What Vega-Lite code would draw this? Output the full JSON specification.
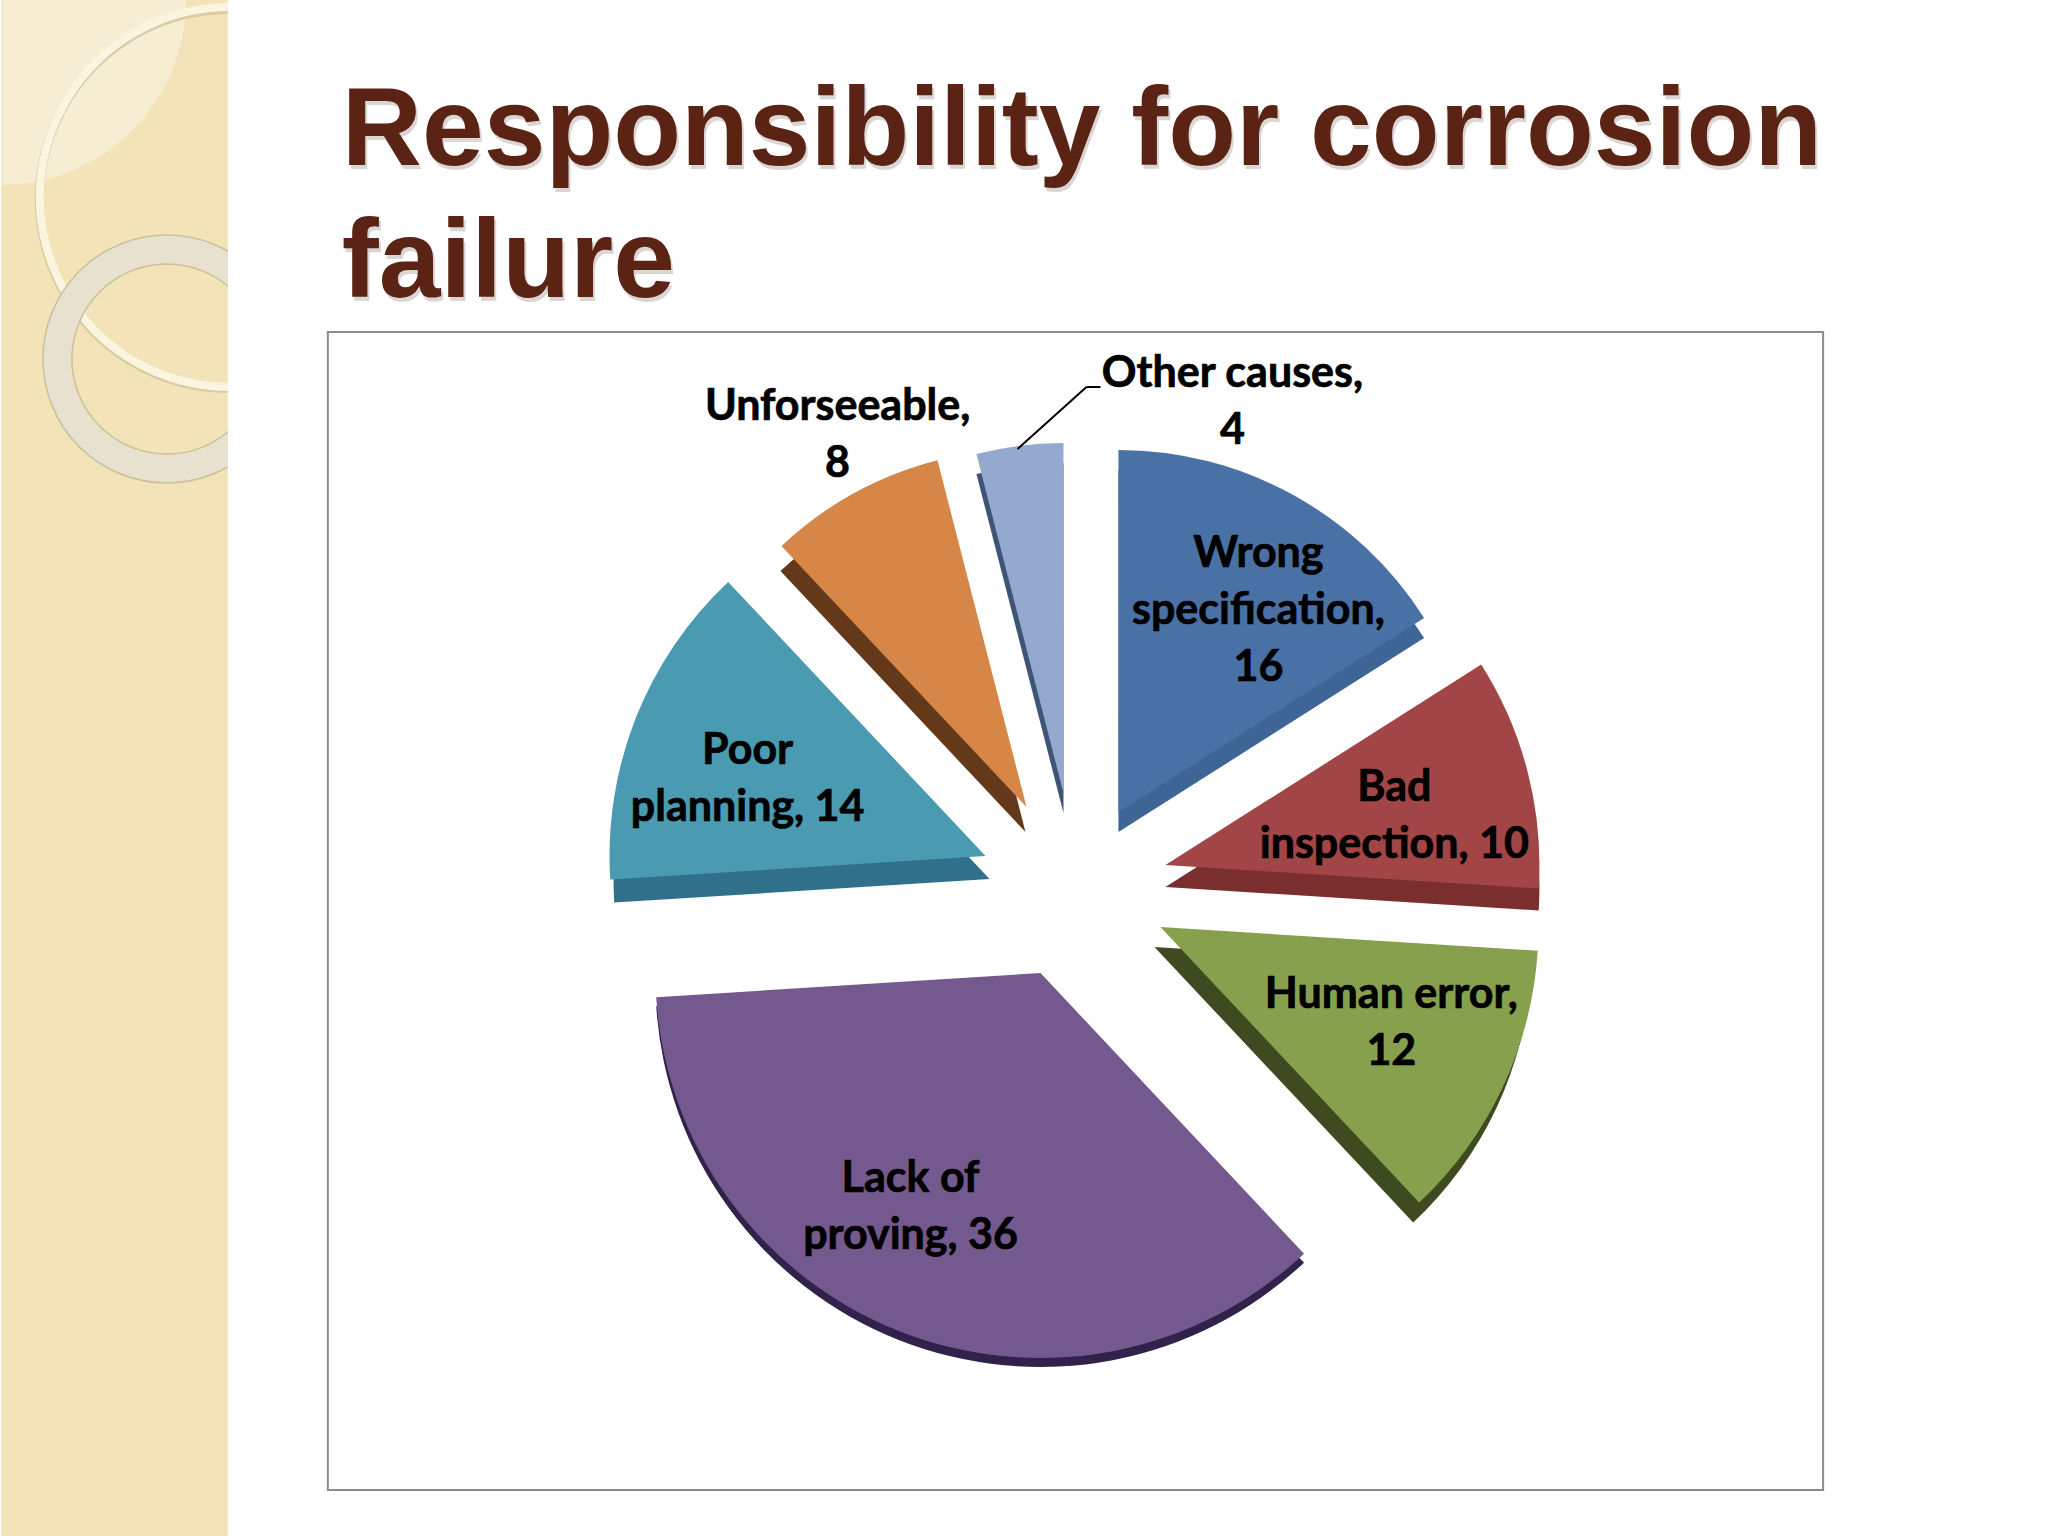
{"$schema":"https://vega.github.io/schema/vega-lite/v6.json","width":2048,"height":1536,"padding":0,"autosize":{"type":"fit","contains":"padding"},"background":"#ffffff","config":{"view":{"stroke":null}},
"data":{"values":[
{"order":1,"cause":"Wrong specification","value":16,"label":"Wrong\nspecification,\n16"},
{"order":2,"cause":"Bad inspection","value":10,"label":"Bad\ninspection, 10"},
{"order":3,"cause":"Human error","value":12,"label":"Human error,\n12"},
{"order":4,"cause":"Lack of proving","value":36,"label":"Lack of\nproving, 36"},
{"order":5,"cause":"Poor planning","value":14,"label":"Poor\nplanning,  14"},
{"order":6,"cause":"Unforseeable","value":8,"label":"Unforseeable,\n8"},
{"order":7,"cause":"Other causes","value":4,"label":"Other causes,\n4"}]},
"transform":[
{"window":[{"op":"sum","field":"value","as":"end"}],"sort":[{"field":"order"}]},
{"calculate":"datum.end-datum.value","as":"start"},
{"calculate":"{'Wrong specification':1118,'Bad inspection':1165,'Human error':1160,'Lack of proving':1040,'Poor planning':985,'Unforseeable':1026,'Other causes':1063}[datum.cause]","as":"tipX"},
{"calculate":"{'Wrong specification':812,'Bad inspection':865,'Human error':927,'Lack of proving':973,'Poor planning':856,'Unforseeable':807,'Other causes':793}[datum.cause]","as":"tipY"},
{"calculate":"{'Wrong specification':362,'Bad inspection':374,'Human error':378,'Lack of proving':385,'Poor planning':376,'Unforseeable':358,'Other causes':350}[datum.cause]","as":"r"},
{"calculate":"datum.tipX+{'Wrong specification':0,'Bad inspection':0,'Human error':-6,'Lack of proving':0,'Poor planning':4,'Unforseeable':-1,'Other causes':0}[datum.cause]","as":"sideX"},
{"calculate":"datum.tipY+{'Wrong specification':20,'Bad inspection':22,'Human error':20,'Lack of proving':9,'Poor planning':23,'Unforseeable':25,'Other causes':20}[datum.cause]","as":"sideY"},
{"calculate":"{'Wrong specification':1258,'Bad inspection':1394,'Human error':1391,'Lack of proving':910,'Poor planning':747,'Unforseeable':837,'Other causes':1232}[datum.cause]","as":"labelX"},
{"calculate":"{'Wrong specification':554,'Bad inspection':788,'Human error':995,'Lack of proving':1179,'Poor planning':751,'Unforseeable':407,'Other causes':374}[datum.cause]","as":"labelY"}
],
"layer":[
{"data":{"values":[{"a":1}]},"mark":{"type":"rect","fill":"#F3E3B9"},"encoding":{"x":{"datum":0,"type":"quantitative","scale":{"domain":[0,2048],"nice":false,"zero":false},"axis":null},"x2":{"datum":227},"y":{"datum":0,"type":"quantitative","scale":{"domain":[0,1536],"reverse":true,"nice":false,"zero":false},"axis":null},"y2":{"datum":1536}}},
{"data":{"values":[{"a":1}]},"mark":{"type":"arc","fill":"#F6EDD2","radius":185,"theta":1.5708,"theta2":3.1416},"encoding":{"x":{"datum":0,"type":"quantitative","scale":{"domain":[0,2048],"nice":false,"zero":false},"axis":null},"y":{"datum":0,"type":"quantitative","scale":{"domain":[0,1536],"reverse":true,"nice":false,"zero":false},"axis":null}}},
{"data":{"values":[{"a":1}]},"mark":{"type":"arc","fill":"#D9CBA3","radius":194,"radius2":185,"theta":0,"theta2":6.2832},"encoding":{"x":{"datum":228,"type":"quantitative","scale":{"domain":[0,2048],"nice":false,"zero":false},"axis":null},"y":{"datum":199,"type":"quantitative","scale":{"domain":[0,1536],"reverse":true,"nice":false,"zero":false},"axis":null}}},
{"data":{"values":[{"a":1}]},"mark":{"type":"arc","fill":"#FBF5E0","radius":194,"radius2":186,"theta":0,"theta2":6.2832},"encoding":{"x":{"datum":229,"type":"quantitative","scale":{"domain":[0,2048],"nice":false,"zero":false},"axis":null},"y":{"datum":197,"type":"quantitative","scale":{"domain":[0,1536],"reverse":true,"nice":false,"zero":false},"axis":null}}},
{"data":{"values":[{"a":1}]},"mark":{"type":"arc","fill":"#E7E1D0","stroke":"#CDBF98","strokeWidth":1.5,"radius":124,"radius2":95,"theta":0,"theta2":6.2832},"encoding":{"x":{"datum":166,"type":"quantitative","scale":{"domain":[0,2048],"nice":false,"zero":false},"axis":null},"y":{"datum":359,"type":"quantitative","scale":{"domain":[0,1536],"reverse":true,"nice":false,"zero":false},"axis":null}}},
{"data":{"values":[{"a":1}]},"mark":{"type":"rect","fill":"#ffffff"},"encoding":{"x":{"datum":227,"type":"quantitative","scale":{"domain":[0,2048],"nice":false,"zero":false},"axis":null},"x2":{"datum":2048},"y":{"datum":0,"type":"quantitative","scale":{"domain":[0,1536],"reverse":true,"nice":false,"zero":false},"axis":null},"y2":{"datum":1536}}},
{"data":{"values":[{"a":1}]},"mark":{"type":"rect","fill":"#ffffff","stroke":"#8C8C8C","strokeWidth":2},"encoding":{"x":{"datum":327,"type":"quantitative","scale":{"domain":[0,2048],"nice":false,"zero":false},"axis":null},"x2":{"datum":1823},"y":{"datum":332,"type":"quantitative","scale":{"domain":[0,1536],"reverse":true,"nice":false,"zero":false},"axis":null},"y2":{"datum":1490}}},
{"data":{"values":[{"line":"Responsibility for corrosion","row":165},{"line":"failure","row":297}]},"mark":{"type":"text","align":"left","baseline":"alphabetic","font":"Liberation Sans","fontWeight":"bold","fontSize":111,"fill":"#B5AEAA","opacity":0.5,"dx":2,"dy":4},"encoding":{"x":{"datum":341,"type":"quantitative","scale":{"domain":[0,2048],"nice":false,"zero":false},"axis":null},"y":{"field":"row","type":"quantitative","scale":{"domain":[0,1536],"reverse":true,"nice":false,"zero":false},"axis":null},"text":{"field":"line"}}},
{"data":{"values":[{"line":"Responsibility for corrosion","row":165},{"line":"failure","row":297}]},"mark":{"type":"text","align":"left","baseline":"alphabetic","font":"Liberation Sans","fontWeight":"bold","fontSize":111,"fill":"#5B2314"},"encoding":{"x":{"datum":341,"type":"quantitative","scale":{"domain":[0,2048],"nice":false,"zero":false},"axis":null},"y":{"field":"row","type":"quantitative","scale":{"domain":[0,1536],"reverse":true,"nice":false,"zero":false},"axis":null},"text":{"field":"line"}}},
{"mark":{"type":"arc"},"encoding":{"x":{"field":"sideX","type":"quantitative","scale":{"domain":[0,2048],"nice":false,"zero":false},"axis":null},"y":{"field":"sideY","type":"quantitative","scale":{"domain":[0,1536],"reverse":true,"nice":false,"zero":false},"axis":null},"theta":{"field":"start","type":"quantitative","stack":false,"scale":{"domain":[0,100],"range":[0,6.28319]}},"theta2":{"field":"end"},"radius":{"field":"r","type":"quantitative","scale":null},"color":{"field":"cause","type":"nominal","legend":null,"scale":{"domain":["Wrong specification","Bad inspection","Human error","Lack of proving","Poor planning","Unforseeable","Other causes"],"range":["#3F6596","#7A2E2E","#3E4A1F","#30224A","#30708A","#64391A","#3F5577"]}}}},
{"mark":{"type":"arc"},"encoding":{"x":{"field":"tipX","type":"quantitative","scale":{"domain":[0,2048],"nice":false,"zero":false},"axis":null},"y":{"field":"tipY","type":"quantitative","scale":{"domain":[0,1536],"reverse":true,"nice":false,"zero":false},"axis":null},"theta":{"field":"start","type":"quantitative","stack":false,"scale":{"domain":[0,100],"range":[0,6.28319]}},"theta2":{"field":"end"},"radius":{"field":"r","type":"quantitative","scale":null},"color":{"field":"cause","type":"nominal","legend":null,"scale":{"domain":["Wrong specification","Bad inspection","Human error","Lack of proving","Poor planning","Unforseeable","Other causes"],"range":["#4A71A6","#A14546","#87A04E","#74598E","#4A9AB2","#D68647","#94A9CE"]}}}},
{"data":{"values":[{"a":1}]},"mark":{"type":"rule","stroke":"#000000","strokeWidth":2},"encoding":{"x":{"datum":1017,"type":"quantitative","scale":{"domain":[0,2048],"nice":false,"zero":false},"axis":null},"y":{"datum":449,"type":"quantitative","scale":{"domain":[0,1536],"reverse":true,"nice":false,"zero":false},"axis":null},"x2":{"datum":1086},"y2":{"datum":387}}},
{"data":{"values":[{"a":1}]},"mark":{"type":"rule","stroke":"#000000","strokeWidth":2},"encoding":{"x":{"datum":1086,"type":"quantitative","scale":{"domain":[0,2048],"nice":false,"zero":false},"axis":null},"y":{"datum":387,"type":"quantitative","scale":{"domain":[0,1536],"reverse":true,"nice":false,"zero":false},"axis":null},"x2":{"datum":1100},"y2":{"datum":387}}},
{"mark":{"type":"text","align":"center","baseline":"middle","font":"Lato","fontWeight":"bold","fontSize":43,"lineHeight":57,"lineBreak":"\n","fill":"#000000","stroke":"#000000","strokeWidth":0.7},"encoding":{"x":{"field":"labelX","type":"quantitative","scale":{"domain":[0,2048],"nice":false,"zero":false},"axis":null},"y":{"field":"labelY","type":"quantitative","scale":{"domain":[0,1536],"reverse":true,"nice":false,"zero":false},"axis":null},"text":{"field":"label"}}}
],
"resolve":{"scale":{"color":"independent"}}}
